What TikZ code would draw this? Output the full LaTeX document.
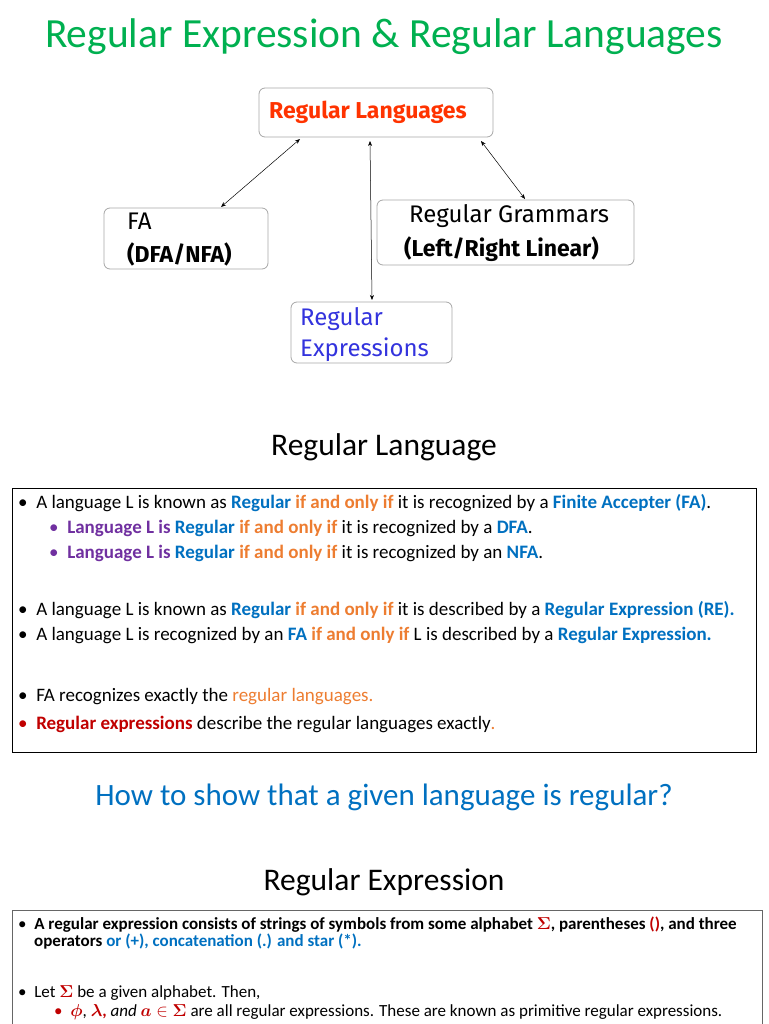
\documentclass[tikz,border=0pt]{standalone}
\usepackage{amsmath}
\usepackage{fontspec}
\setmainfont{Carlito}
\newfontfamily\comic{Fira Sans}
\usetikzlibrary{arrows.meta}
\definecolor{tgreen}{HTML}{00B050}
\definecolor{tblue}{HTML}{0070C0}
\definecolor{torange}{HTML}{ED7D31}
\definecolor{tpurple}{HTML}{7030A0}
\definecolor{tred}{HTML}{C00000}
\definecolor{lred}{HTML}{FF3300}
\definecolor{lblue}{HTML}{3333DD}
\newcommand{\bl}[1]{\textcolor{tblue}{\textbf{#1}}}
\newcommand{\og}[1]{\textcolor{torange}{\textbf{#1}}}
\begin{document}
\begin{tikzpicture}[x=1pt,y=-1pt,
  box/.style={draw=gray!70,rounded corners=6pt,line width=0.8pt},
  line/.style={anchor=west,inner sep=0pt,font=\fontsize{19}{22}\selectfont},
  sm/.style={anchor=west,inner sep=0pt,font=\fontsize{17}{20}\selectfont},
  rl/.style={anchor=west,inner sep=0pt,font=\comic\fontsize{24}{28}\selectfont},
  rlb/.style={rl,font=\comic\bfseries\fontsize{23}{28}\selectfont},
  arr/.style={{Stealth[length=5pt,width=4pt]}-{Stealth[length=5pt,width=4pt]},line width=0.5pt}]
\useasboundingbox (0,0) rectangle (768,1024);
\node[text=tgreen,font=\fontsize{41.5}{46}\selectfont] (title) at (384,37) {Regular Expression \& Regular Languages};
% diagram
\node[box,minimum width=234pt,minimum height=49pt] (RL) at (376,112.5) {};
\node[rlb,text=lred] (rlt) at (269,112) {Regular Languages};
\node[box,minimum width=164pt,minimum height=61pt] (FA) at (186,238.5) {};
\node[rl] (fa1) at (127,221) {FA};
\node[rlb] (fa2) at (127,254) {(DFA/NFA)};
\node[box,minimum width=257pt,minimum height=65pt] (RG) at (505.5,232.5) {};
\node[rl] (rg1) at (409,216) {Regular Grammars};
\node[rlb] (rg2) at (404,249) {(Left/Right Linear)};
\node[box,minimum width=161pt,minimum height=61pt] (RE) at (371.5,332.5) {};
\node[rl,text=lblue] (re1) at (300,319) {Regular};
\node[rl,text=lblue] (re2) at (300,350) {Expressions};
\coordinate (a1) at (300,139); \coordinate (b1) at (221,207);
\coordinate (a2) at (370,141); \coordinate (b2) at (372,300);
\coordinate (a3) at (481,141); \coordinate (b3) at (525,199);
\draw[arr] (a1) -- (b1);
\draw[arr] (a2) -- (b2);
\draw[arr] (a3) -- (b3);
% section 1
\node[font=\fontsize{31.5}{36}\selectfont] (h1) at (384,447) {Regular Language};
\draw[line width=0.8pt] (12,488) rectangle (756,752);
\node[line] (l1) at (18,503) {\textbullet\ \ A language L is known as \bl{Regular} \og{if and only if} it is recognized by a \bl{Finite Accepter (FA)}.};
\node[line] (l2) at (49,528) {\textcolor{tpurple}{\textbullet}\ \ \textcolor{tpurple}{\textbf{Language L is}} \bl{Regular} \og{if and only if} it is recognized by a \bl{DFA}.};
\node[line] (l3) at (49,553) {\textcolor{tpurple}{\textbullet}\ \ \textcolor{tpurple}{\textbf{Language L is}} \bl{Regular} \og{if and only if} it is recognized by an \bl{NFA}.};
\node[line] (l4) at (18,610) {\textbullet\ \ A language L is known as \bl{Regular} \og{if and only if} it is described by a \bl{Regular Expression (RE).}};
\node[line] (l5) at (18,635) {\textbullet\ \ A language L is recognized by an \bl{FA} \og{if and only if} L is described by a \bl{Regular Expression.}};
\node[line] (l6) at (18,697) {\textbullet\ \ FA recognizes exactly the \textcolor{torange}{regular languages.}};
\node[line] (l7) at (18,724) {\textcolor{tred}{\textbullet}\ \ \textcolor{tred}{\textbf{Regular expressions}} describe the regular languages exactly\textcolor{torange}{.}};
\node[text=tblue,font=\fontsize{31}{36}\selectfont] (h2) at (384,797) {How to show that a given language is regular?};
\node[font=\fontsize{31.5}{36}\selectfont] (h3) at (384,882) {Regular Expression};
\draw[line width=0.8pt,draw=gray!80!black] (12,1030) -- (12,910) -- (762,910) -- (762,1030);
\node[sm] (m1) at (18,925) {\textbullet\ \ \textbf{A regular expression consists of strings of symbols from some alphabet \textcolor{tred}{$\boldsymbol\Sigma$}, parentheses \textcolor{tred}{()}, and three}};
\node[sm] (m2) at (34,942) {\textbf{operators} \bl{or (+), concatenation (.) and star (*).}};
\node[sm] (m3) at (18,993) {\textbullet\ \ Let \textcolor{tred}{$\boldsymbol\Sigma$} be a given alphabet. Then,};
\node[sm] (m4) at (54,1012) {\textcolor{tred}{\textbullet}\ \ \textcolor{tred}{$\boldsymbol\phi$}, \textcolor{tred}{$\boldsymbol\lambda$\textbf{,}} \textit{and} \textcolor{tred}{$\boldsymbol{a}\in\boldsymbol\Sigma$} are all regular expressions. These are known as primitive regular expressions.};
\end{tikzpicture}
\end{document}
